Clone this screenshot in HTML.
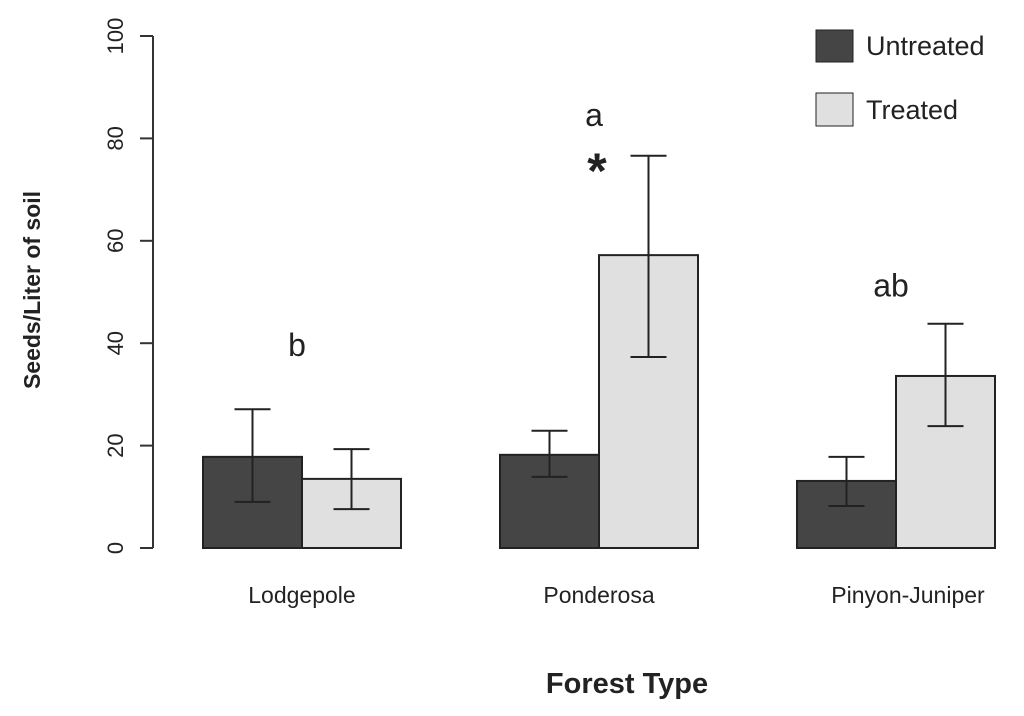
<!DOCTYPE html>
<html><head><meta charset="utf-8"><style>
body{margin:0;background:#fff;width:1024px;height:711px;overflow:hidden}
text{font-family:"Liberation Sans",sans-serif;fill:#222}
</style></head><body>
<svg id="chart" width="1024" height="711">
<g id="axis"></g>
<g id="bars"></g>
<text x="627" y="693" font-size="29" font-weight="bold" text-anchor="middle">Forest Type</text>
<text transform="translate(40,290) rotate(-90)" font-size="23" font-weight="bold" text-anchor="middle">Seeds/Liter of soil</text>
<g>
<rect x="816" y="30" width="37" height="32" fill="#454545" stroke="#222"/>
<text x="866" y="55" font-size="27">Untreated</text>
<rect x="816" y="93" width="37" height="33" fill="#e0e0e0" stroke="#222"/>
<text x="866" y="119" font-size="27">Treated</text>
</g>
</svg>
<script>
const categories=["Lodgepole","Ponderosa","Pinyon-Juniper"];
const untreated=[17.8,18.2,13.1];
const untreatedLo=[9,13.9,8.2];
const untreatedHi=[27.1,22.9,17.8];
const treated=[13.5,57.2,33.6];
const treatedLo=[7.6,37.3,23.8];
const treatedHi=[19.3,76.6,43.8];
const letters=["b","a","ab"];
const stars=["","*",""];
const ticks=[0,20,40,60,80,100];
const NS="http://www.w3.org/2000/svg";
const y=v=>548-v*5.12;
const groupX=i=>203+i*297;
function mk(tag,attrs,parent){const e=document.createElementNS(NS,tag);for(const k in attrs)e.setAttribute(k,attrs[k]);parent.appendChild(e);return e;}
const ax=document.getElementById('axis'),bg=document.getElementById('bars');
let l=mk('line',{x1:153,x2:153,y1:y(0),y2:y(100),stroke:'#333','stroke-width':2},ax);


ticks.forEach(t=>{
 let tl=mk('line',{x1:140,x2:153,y1:y(t),y2:y(t),stroke:'#333','stroke-width':2},ax);
 
 
 let tx=mk('text',{transform:`translate(123,${y(t)}) rotate(-90)`,'font-size':22,'text-anchor':'middle',fill:'#333'},ax);
 tx.textContent=t;
 
 
});
categories.forEach((c,i)=>{
 const x0=groupX(i);
 [[untreated,untreatedLo,untreatedHi,'#454545',0,'untreated'],[treated,treatedLo,treatedHi,'#e0e0e0',99,'treated']].forEach(([v,lo,hi,col,off,nm])=>{
  let r=mk('rect',{x:x0+off,y:y(v[i]),width:99,height:y(0)-y(v[i]),fill:col,stroke:'#222','stroke-width':2},bg);
  
  
  const cx=x0+off+49.5;
  const eg=mk('g',{stroke:'#222','stroke-width':2},bg);
  
  
  mk('line',{x1:cx,x2:cx,y1:y(lo[i]),y2:y(hi[i])},eg);
  mk('line',{x1:cx-18,x2:cx+18,y1:y(lo[i]),y2:y(lo[i])},eg);
  mk('line',{x1:cx-18,x2:cx+18,y1:y(hi[i]),y2:y(hi[i])},eg);
 });
 const gx=x0+99;
 let lt=mk('text',{x:gx-5,y:y(treatedHi[i])-(stars[i]?30:27),'font-size':32,'text-anchor':'middle'},bg);
 if(i===0) lt.setAttribute('y',356);
 lt.textContent=letters[i];
 
 
 if(stars[i]){let s=mk('text',{x:gx-2,y:y(treatedHi[i])+32,'font-size':50,'font-weight':'bold','text-anchor':'middle'},bg);s.textContent=stars[i];
  
  }
 let cl=mk('text',{x:gx+(i===2?12:0),y:603,'font-size':23,'text-anchor':'middle'},bg);
 cl.textContent=c;
 
 
});
</script>
</body></html>
